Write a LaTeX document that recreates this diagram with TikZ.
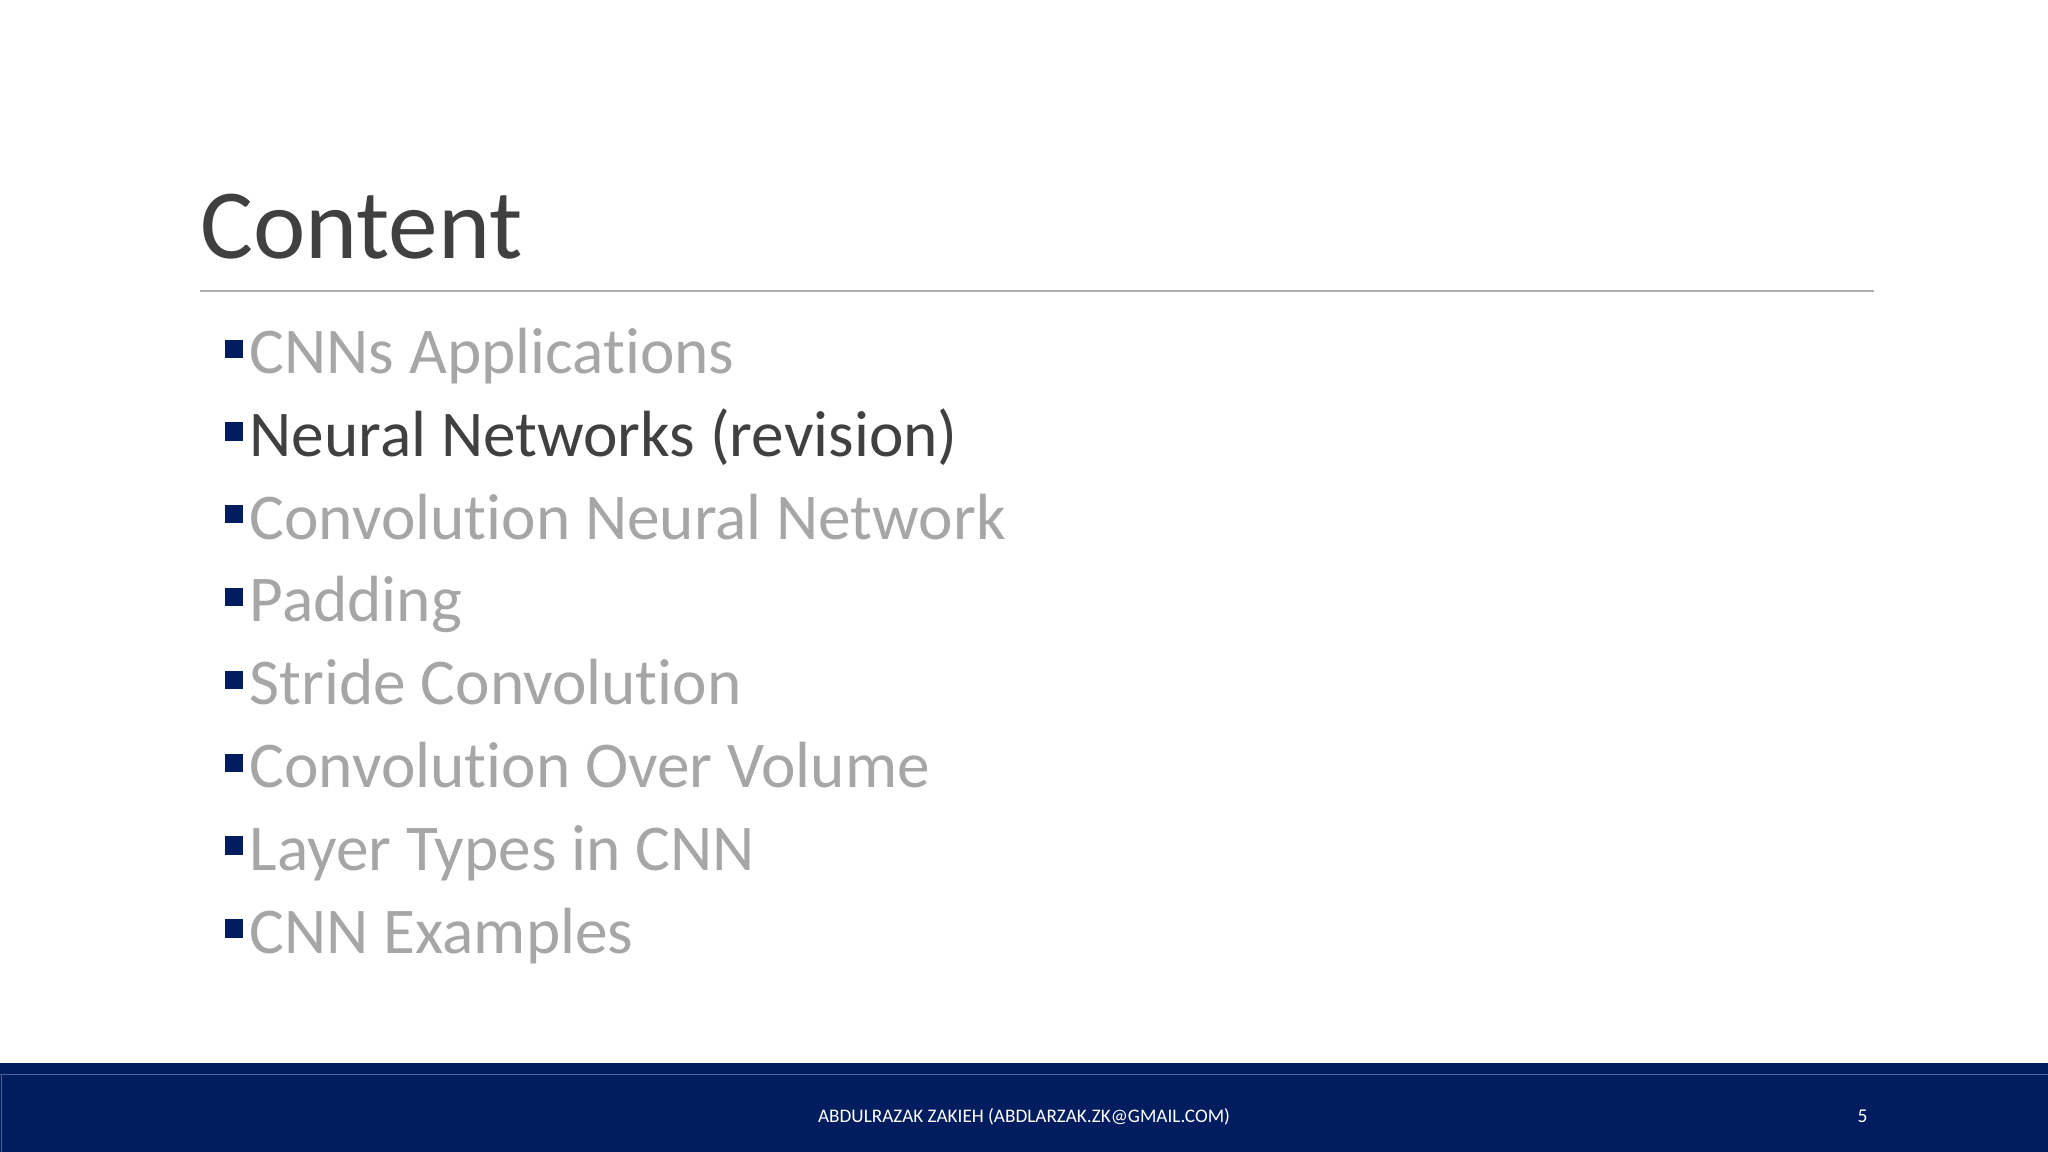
\documentclass[tikz,border=0pt]{standalone}
\usepackage{fontspec}
\setmainfont{Carlito}[Ligatures=NoCommon]
\definecolor{navy}{HTML}{021D5F}
\definecolor{navyline}{HTML}{4A6498}
\definecolor{dark}{HTML}{404040}
\definecolor{light}{HTML}{A6A6A6}
\begin{document}
\begin{tikzpicture}[x=1pt,y=-1pt,
  item/.style={anchor=base west,inner sep=0pt,font=\fontsize{50}{58}\selectfont,text=light},
  bul/.style={fill=navy,draw=none,minimum size=14pt,inner sep=0pt}]
\useasboundingbox (0,0) rectangle (1568,882);
\fill[white] (0,0) rectangle (1568,882);
\node[anchor=base west,inner sep=0pt,font=\fontsize{76}{80}\selectfont,text=dark] (title) at (153,198) {Content};
\coordinate (la) at (153,223); \coordinate (lb) at (1435,223);
\draw[line width=1.2pt,color=light!90] (la) -- (lb);
\foreach \t [count=\i] in {CNNs Applications,Neural Networks (revision),Convolution Neural Network,Padding,Stride Convolution,Convolution Over Volume,Layer Types in CNN,CNN Examples}{
  \pgfmathsetmacro\yy{286+(\i-1)*63.4}
  \node[bul] (b\i) at (179,\yy-19) {};
  \ifnum\i=2
    \node[item,text=dark] (t\i) at (191,\yy) {\t};
  \else
    \node[item] (t\i) at (191,\yy) {\t};
  \fi
}
\fill[navy] (0,814) rectangle (1568,882);
\coordinate (fa) at (0,822.5); \coordinate (fb) at (1568,822.5);
\draw[navyline,line width=1pt] (fa) -- (fb);
\draw[navyline,line width=1pt] (1,822.5) -- (1,882);
\node[text=white,font=\fontsize{14.7}{16}\selectfont] (foot) at (784,855) {ABDULRAZAK ZAKIEH (ABDLARZAK.ZK@GMAIL.COM)};
\node[text=white,font=\fontsize{15}{17}\selectfont] (pg) at (1426,855) {5};
\end{tikzpicture}
\end{document}
